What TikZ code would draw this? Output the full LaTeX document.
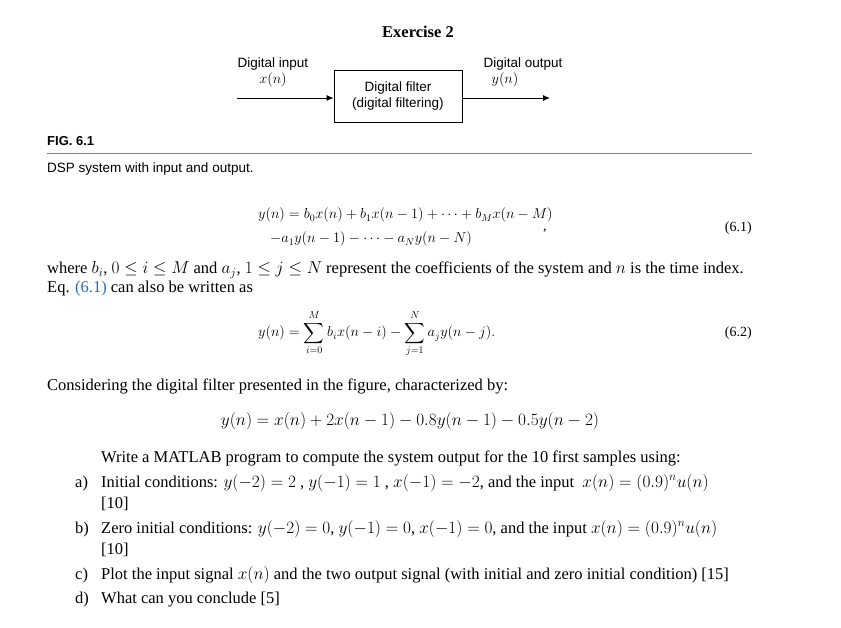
\documentclass[tikz,border=0pt]{standalone}
\usepackage{amsmath}
\usepackage{fontspec}
\setmainfont{Liberation Serif}
\setsansfont{Liberation Sans}
\begin{document}
\begin{tikzpicture}[x=1pt,y=-1pt,
  txt/.style={anchor=base west,inner sep=0pt,font=\fontsize{16.5}{20}\selectfont},
  sf/.style={anchor=base west,inner sep=0pt,font=\sffamily\fontsize{13.5}{16}\selectfont},
  eqn/.style={anchor=base west,inner sep=0pt,font=\fontsize{14}{17}\selectfont},
  arr/.style={-{Latex[length=7pt,width=6pt]},line width=0.9pt}]
\usetikzlibrary{arrows.meta}
\useasboundingbox (0,0) rectangle (841,628);
\node[anchor=base,inner sep=0pt,font=\bfseries\fontsize{16.5}{20}\selectfont] (title) at (418,38) {Exercise 2};
\node[draw,line width=0.9pt,minimum width=128pt,minimum height=52pt,align=center,font=\sffamily\fontsize{13.5}{16}\selectfont] (box) at (398,96) {Digital filter\\(digital filtering)};
\coordinate (in) at (237,98);
\coordinate (out) at (550,98);
\draw[arr] (in) -- (box.west |- in);
\draw[arr] (box.east |- out) -- (out);
\node[anchor=base,inner sep=0pt,font=\sffamily\fontsize{13.5}{16}\selectfont] (il) at (273,68) {Digital input};
\node[anchor=base,inner sep=0pt,font=\fontsize{14}{16}\selectfont] (ix) at (273,84) {$x(n)$};
\node[anchor=base,inner sep=0pt,font=\sffamily\fontsize{13.5}{16}\selectfont] (ol) at (523,68) {Digital output};
\node[anchor=base,inner sep=0pt,font=\fontsize{14}{16}\selectfont] (oy) at (505,84) {$y(n)$};
\node[sf,font=\sffamily\bfseries\fontsize{13}{16}\selectfont] (fig) at (47,146) {FIG. 6.1};
\draw[gray,line width=0.6pt] (47,153) -- (752,153);
\node[sf] (cap) at (47,173) {DSP system with input and output.};
\node[eqn] (e1a) at (258,219) {$y(n) = b_0x(n)+b_1x(n-1)+\cdots+b_Mx(n-M)$};
\node[eqn] (e1b) at (270,243) {$-a_1y(n-1)-\cdots-a_Ny(n-N)$};
\node[eqn] (comma) at (543,231) {,};
\node[eqn,anchor=base east] (n1) at (752,232) {(6.1)};
\node[txt] (w1) at (47,274) {where $b_i$, $0\le i\le M$ and $a_j$, $1\le j\le N$ represent the coefficients of the system and $n$ is the time index.};
\node[txt] (w2) at (47,293) {Eq. \textcolor[RGB]{40,110,190}{(6.1)} can also be written as};
\node[eqn] (e2) at (258,337) {$y(n)=\displaystyle\sum_{i=0}^{M} b_ix(n-i)-\sum_{j=1}^{N} a_jy(n-j).$};
\node[eqn,anchor=base east] (n2) at (752,337) {(6.2)};
\node[txt] (c1) at (47,390) {Considering the digital filter presented in the figure, characterized by:};
\node[anchor=base,inner sep=0pt,font=\fontsize{19}{22}\selectfont] (big) at (410,425) {$y(n)=x(n)+2x(n-1)-0.8y(n-1)-0.5y(n-2)$};
\node[txt] (wr) at (101,462) {Write a MATLAB program to compute the system output for the 10 first samples using:};
\node[txt] (la) at (75,487) {a)};
\node[txt] (ta) at (101,487) {Initial conditions: $y(-2)=2$ , $y(-1)=1$ , $x(-1)=-2$, and the input \ $x(n)=(0.9)^nu(n)$};
\node[txt] (ta2) at (101,508) {[10]};
\node[txt] (lb) at (75,533) {b)};
\node[txt] (tb) at (101,533) {Zero initial conditions: $y(-2)=0$, $y(-1)=0$, $x(-1)=0$, and the input $x(n)=(0.9)^nu(n)$};
\node[txt] (tb2) at (101,554) {[10]};
\node[txt] (lc) at (75,579) {c)};
\node[txt] (tc) at (101,579) {Plot the input signal $x(n)$ and the two output signal (with initial and zero initial condition) [15]};
\node[txt] (ld) at (75,603) {d)};
\node[txt] (td) at (101,603) {What can you conclude [5]};
\end{tikzpicture}
\end{document}
